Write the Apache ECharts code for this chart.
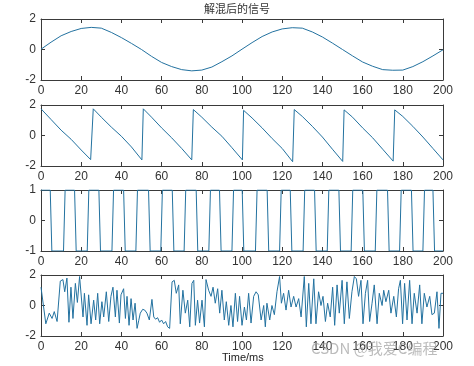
<!DOCTYPE html>
<html>
<head>
<meta charset="utf-8">
<script src="https://cdn.jsdelivr.net/npm/echarts@6/dist/echarts.min.js"></script>
<style>html,body{margin:0;padding:0;background:#fff;}#c{width:474px;height:366px;}</style>
</head>
<body>
<div id="c"></div>
<script>
// ---- data ----
const titleText = '解混后的信号';
const xLabel = 'Time/ms';
const watermark = 'CSDN @我爱C编程';
const xMin = 0, xMax = 200, xStep = 20;

// panel 1: sine (t in ms, value)
const sine = [[0,0.02],[5,0.48],[10,0.9],[15,1.18],[20,1.38],[25,1.45],[30,1.4],[35,1.12],[40,0.78],[45,0.4],
  [50,0.0],[55,-0.45],[60,-0.85],[65,-1.12],[70,-1.32],[75,-1.4],[80,-1.35],[85,-1.15],[90,-0.8],[95,-0.42],
  [100,0.02],[105,0.45],[110,0.85],[115,1.15],[120,1.35],[125,1.43],[130,1.4],[135,1.15],[140,0.82],[145,0.42],
  [150,0.0],[155,-0.42],[160,-0.82],[165,-1.1],[170,-1.32],[175,-1.36],[180,-1.35],[185,-1.12],[190,-0.8],[195,-0.42],[200,-0.02]];

// panel 2: sawtooth
const saw = [[0,1.75],[5,1.05],[10,0.35],[15,-0.25],[20,-0.95],[24.7,-1.58],[25.3,-1.6],[26,1.75],[30,1.2],[35,0.55],
  [40,-0.05],[45,-0.75],[50.2,-1.6],[50.9,1.75],[55,1.2],[60,0.5],[65,-0.15],[70,-0.85],[75,-1.6],[75.8,1.7],
  [80,1.2],[85,0.55],[90,-0.05],[95,-0.8],[100.2,-1.6],[100.8,1.65],[105,1.15],[110,0.5],[115,-0.2],[120,-0.85],
  [125.2,-1.72],[126,1.7],[130,1.25],[135,0.6],[140,-0.1],[145,-0.9],[150.1,-1.7],[150.8,1.68],[155,1.2],[160,0.5],
  [165,-0.15],[170,-0.9],[175.2,-1.68],[176,1.68],[180,1.25],[185,0.6],[190,-0.1],[195,-0.85],[200,-1.6]];

// panel 3: square wave — starting level and switching times (ms)
const squareStart = 1;
const squareEdges = [5.0,11.6,17.1,23.4,29.2,35.7,41.5,47.6,53.9,60.0,65.7,71.6,77.6,83.9,89.2,95.4,100.5,
  107.1,112.9,119.1,124.4,130.8,136.5,142.8,148.6,154.7,160.5,166.7,172.8,178.8,184.7,190.4,195.4];

// panel 4: noise-like signal
const noise = [[0,1.2],[2.4,-1.2],[4.1,-0.5],[5.5,-0.85],[6.6,-0.4],[8.0,-1.05],[9.6,1.6],[10.9,1.7],[11.8,0.9],[12.9,1.8],
  [13.9,-1.1],[14.9,1.2],[15.9,-0.85],[17.1,1.45],[18.1,0.2],[19.2,1.9],[20.9,-0.75],[21.6,0.8],[22.9,-1.3],[23.7,0.7],
  [24.9,-1.2],[26.2,0.35],[27.2,-0.95],[28.2,0.8],[29.2,-1.2],[30.3,0.25],[31.2,-0.75],[32.5,0.9],[33.7,-1.05],[34.8,0.6],
  [35.8,1.2],[37.0,-0.75],[37.8,1.0],[39.0,-1.15],[39.8,0.7],[41.1,1.1],[42.0,-0.85],[42.8,0.6],[43.8,-1.3],[44.8,0.45],
  [45.8,-0.95],[46.8,0.15],[47.8,-1.5],[48.6,-1.0],[49.4,-0.5],[50.6,-0.25],[51.6,-0.3],[52.7,-0.5],[53.9,-0.95],[55.2,0.4],
  [56.1,-0.75],[57,-0.9],[58,-0.8],[59,-1.1],[60,-0.95],[61,-1.2],[62,-1.05],[63,-1.4],[64.0,-1.5],[65.2,1.55],
  [66.3,1.65],[67.3,0.8],[68.5,1.35],[69.3,-1.2],[70.6,1.0],[71.8,-0.5],[73.0,0.35],[74.0,-1.4],[75.1,1.45],[76.0,1.65],
  [76.8,-1.3],[77.9,0.35],[78.9,-1.15],[80.1,0.35],[81.3,-1.4],[82.1,1.7],[83.4,1.0],[84.6,0.6],[85.6,1.2],[86.7,0.15],
  [87.9,1.1],[88.9,-0.5],[90.0,1.0],[91.2,-0.95],[92.2,0.25],[93.4,-1.3],[94.5,0.0],[95.5,-1.4],[96.7,0.8],[97.8,-1.05],
  [98.8,0.6],[100.0,-1.3],[101.2,-0.1],[102.2,-0.95],[103.3,0.8],[104.5,-1.15],[105.8,0.6],[107.0,0.9],[108.1,0.7],[109.5,-0.95],
  [110.8,0.0],[111.6,-1.4],[112.4,0.15],[113.8,-0.95],[114.9,0.0],[116.1,-0.6],[117.4,0.9],[118.7,1.9],[119.6,0.15],[120.7,0.8],
  [121.9,-0.3],[123.2,1.0],[124.4,-0.1],[125.7,0.6],[126.9,-0.1],[128.2,0.45],[129.4,-0.75],[131.0,1.9],[132.0,-1.4],[133.2,1.45],
  [134.3,-1.2],[135.7,1.75],[136.8,-1.2],[138.1,0.9],[139.3,0.0],[140.3,0.6],[141.5,-1.05],[142.6,0.15],[143.9,-0.75],[145.1,1.2],
  [146.1,-1.3],[147.3,1.35],[148.4,-0.5],[149.8,1.65],[150.9,-1.2],[152.2,1.55],[153.4,-0.85],[154.7,0.9],[155.9,1.9],[156.9,1.75],
  [158.0,0.6],[159.2,1.65],[160.2,-1.2],[161.4,0.8],[162.5,1.65],[163.5,-1.05],[164.7,0.15],[165.8,1.35],[167.2,-1.2],[168.3,0.8],
  [169.7,0.0],[170.5,1.0],[171.6,0.25],[173.0,1.0],[174.1,-0.5],[175.5,0.6],[176.8,-0.75],[177.9,1.1],[178.8,1.65],[179.9,-1.2],
  [180.9,1.45],[182.1,-0.95],[183.4,1.65],[184.6,-1.2],[185.7,0.8],[187.1,-0.5],[188.4,1.35],[189.5,-1.2],[190.7,0.8],[192.0,-0.1],
  [193.4,0.6],[194.5,-0.6],[195.7,-0.5],[197.0,0.9],[198.0,-1.5],[199.0,0.8],[200,0.8]];

const yRanges = [[-2,2,2],[-2,2,2],[-1,1,1],[-2,2,2]];

// ---- build square wave points from edges ----
const square = [[xMin, squareStart]];
let lvl = squareStart;
squareEdges.forEach(e => {
  square.push([e - 0.4, lvl]);
  lvl = -lvl;
  square.push([e + 0.4, lvl]);
});
square.push([xMax, lvl]);

const panels = [sine, saw, square, noise];
const gridTops = [19, 105, 190, 275];
const gridH = 61;
const lineColor = '#2372a0';
const frameColor = '#3a3a3a';
const labelFont = { color: '#333', fontSize: 12, fontFamily: 'Liberation Sans, Arial, sans-serif' };

const grids = [], xAxes = [], yAxes = [], series = [];
panels.forEach((data, i) => {
  grids.push({ left: 41, right: 31, top: gridTops[i], height: gridH });
  const common = { gridIndex: i, type: 'value', min: xMin, max: xMax, interval: xStep,
    splitLine: { show: false },
    axisLine: { show: true, onZero: false, lineStyle: { color: frameColor, width: 1 } },
    axisTick: { show: true, inside: true, length: 4, lineStyle: { color: frameColor } } };
  xAxes.push(Object.assign({}, common, { position: 'bottom',
    axisLabel: Object.assign({ margin: 5 }, labelFont) }));
  xAxes.push(Object.assign({}, common, { position: 'top', axisLabel: { show: false } }));
  const [ymin, ymax, yint] = yRanges[i];
  const ycommon = { gridIndex: i, type: 'value', min: ymin, max: ymax, interval: yint,
    splitLine: { show: false },
    axisLine: { show: true, onZero: false, lineStyle: { color: frameColor, width: 1 } },
    axisTick: { show: true, inside: true, length: 4, lineStyle: { color: frameColor } } };
  yAxes.push(Object.assign({}, ycommon, { position: 'left',
    axisLabel: Object.assign({ margin: 5 }, labelFont) }));
  yAxes.push(Object.assign({}, ycommon, { position: 'right', axisLabel: { show: false } }));
  series.push({ type: 'line', xAxisIndex: 2 * i, yAxisIndex: 2 * i, data: data,
    showSymbol: false, symbol: 'none', clip: true,
    lineStyle: { color: lineColor, width: 1 }, itemStyle: { color: lineColor } });
});

const chart = echarts.init(document.getElementById('c'));
chart.setOption({
  animation: false,
  backgroundColor: '#fff',
  title: { text: titleText, left: 'center', top: 3, padding: 0,
    textStyle: { fontSize: 11, fontWeight: 'normal', color: '#333', fontFamily: 'Noto Sans CJK SC, sans-serif' } },
  grid: grids, xAxis: xAxes, yAxis: yAxes, series: series,
  graphic: [
    { type: 'text', left: 222, top: 352, style: { text: xLabel, fontSize: 11, fill: '#222',
      fontFamily: 'Liberation Sans, Arial, sans-serif' } },
    { type: 'text', left: 311, top: 341, z: 100, style: { text: watermark, fontSize: 15,
      fill: 'rgba(160,160,160,0.7)', fontFamily: 'Noto Sans CJK SC, sans-serif' } }
  ]
});
</script>
</body>
</html>
